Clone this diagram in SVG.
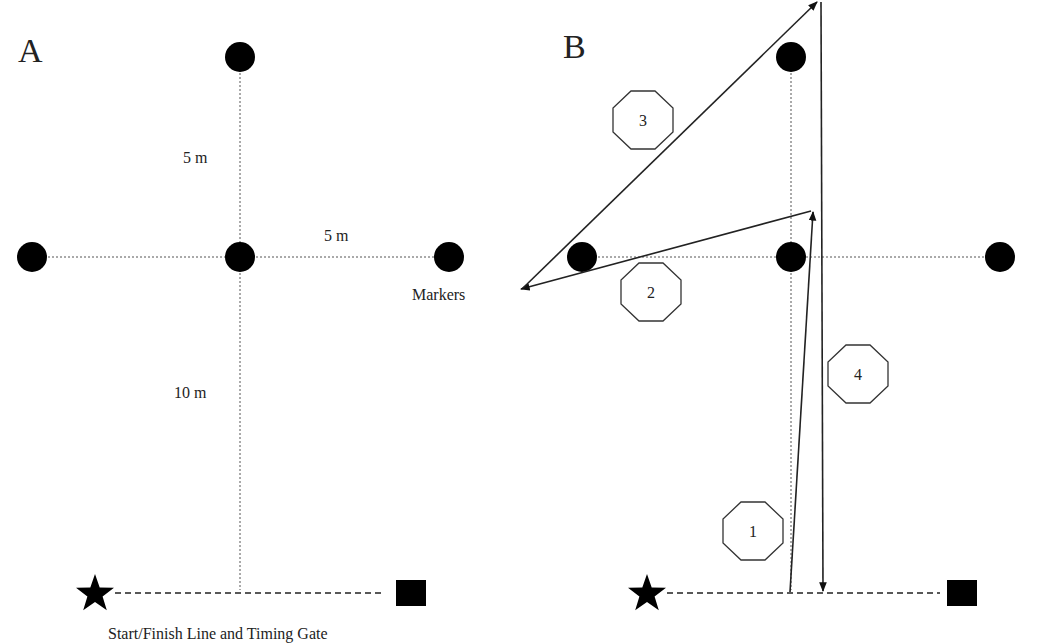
<svg xmlns="http://www.w3.org/2000/svg" width="1038" height="643" viewBox="0 0 1038 643">
<style>
text{font-family:"Liberation Serif",serif;fill:#222}
.lbl{font-size:16px}
.big{font-size:34px}
.dot{fill:#000}
.guide{stroke:#555;stroke-width:1;stroke-dasharray:2,2;fill:none}
.line{stroke:#222;stroke-width:1.5;stroke-dasharray:6,4;fill:none}
.arr{stroke:#222;stroke-width:1.6;fill:none;marker-end:url(#ah)}
.oct{fill:#fff;stroke:#333;stroke-width:1.3}
</style>
<defs>
<marker id="ah" viewBox="0 0 10 10" refX="9" refY="5" markerWidth="6" markerHeight="6" orient="auto"><path d="M0,1 L10,5 L0,9 z" fill="#111"/></marker>
<polygon id="octa" points="-12,-29 12,-29 30,-12 30,12 12,29 -12,29 -30,12 -30,-12"/>
<polygon id="star" points="0,-20 4.7,-6.5 19,-6.2 7.6,2.5 11.8,16.2 0,8 -11.8,16.2 -7.6,2.5 -19,-6.2 -4.7,-6.5"/>
</defs>
<g id="guides">
<path class="guide" d="M240,57 V590 M32,257 H449 M791,57 V590 M582,257 H1000"/>
<path class="line" d="M115,593 H385 M667,593 H940"/>
</g>
<g id="panelA">
<text class="big" x="18" y="62">A</text>
<circle class="dot" cx="240" cy="57" r="15"/>
<circle class="dot" cx="32" cy="257" r="15"/>
<circle class="dot" cx="240" cy="257" r="15"/>
<circle class="dot" cx="449" cy="257" r="15"/>
<text class="lbl" x="183" y="163">5 m</text>
<text class="lbl" x="324" y="241">5 m</text>
<text class="lbl" x="174" y="398">10 m</text>
<text class="lbl" x="412" y="300">Markers</text>
<use href="#star" x="95" y="594" fill="#000"/>
<rect x="396" y="580" width="30" height="26" fill="#000"/>
<text class="lbl" x="108" y="639">Start/Finish Line and Timing Gate</text>
</g>
<g id="panelB">
<text class="big" x="563" y="58">B</text>
<circle class="dot" cx="791" cy="57" r="15"/>
<circle class="dot" cx="582" cy="257" r="15"/>
<circle class="dot" cx="791" cy="257" r="15"/>
<circle class="dot" cx="1000" cy="257" r="15"/>
<use href="#star" x="647" y="594" fill="#000"/>
<rect x="947" y="580" width="30" height="26" fill="#000"/>
</g>
<g id="connectors">
<path class="arr" d="M790,592 L813,212"/>
<path class="arr" d="M811,211 L521,289"/>
<path class="arr" d="M523,288 L817,2"/>
<path class="arr" d="M821,2 L823,591"/>
</g>
<g id="steps">
<use href="#octa" x="643" y="120" class="oct"/><text class="lbl" x="643" y="126" text-anchor="middle">3</text>
<use href="#octa" x="651" y="292" class="oct"/><text class="lbl" x="651" y="298" text-anchor="middle">2</text>
<use href="#octa" x="858" y="374" class="oct"/><text class="lbl" x="858" y="380" text-anchor="middle">4</text>
<use href="#octa" x="753" y="531" class="oct"/><text class="lbl" x="753" y="537" text-anchor="middle">1</text>
</g>
</svg>
